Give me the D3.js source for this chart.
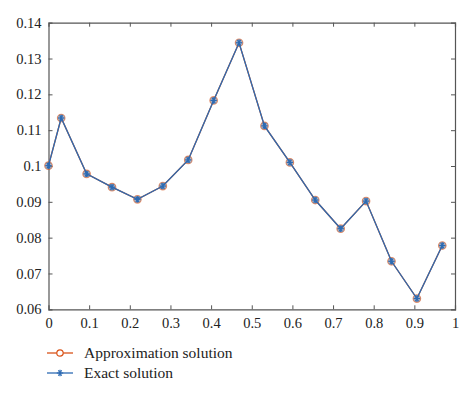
<!DOCTYPE html>
<html>
<head>
<meta charset="utf-8">
<script src="https://cdn.jsdelivr.net/npm/d3@7"></script>
<style>
  body { margin: 0; background: #fff; }
  svg text { font-family: "Liberation Serif", "DejaVu Serif", serif; fill: #222; }
</style>
</head>
<body>
<div id="chart"></div>
<script>
// Data
const xValues = [0, 0.03125, 0.09375, 0.15625, 0.21875, 0.28125, 0.34375, 0.40625,
    0.46875, 0.53125, 0.59375, 0.65625, 0.71875, 0.78125, 0.84375, 0.90625, 0.96875];
const approxValues = [0.1001, 0.1134, 0.0978, 0.0941, 0.0907, 0.0944, 0.1017, 0.1183,
    0.1344, 0.1112, 0.1010, 0.0905, 0.0825, 0.0902, 0.0734, 0.0630, 0.0778];
const exactValues = [0.1001, 0.1134, 0.0978, 0.0941, 0.0907, 0.0944, 0.1017, 0.1183,
    0.1344, 0.1112, 0.1010, 0.0905, 0.0825, 0.0902, 0.0734, 0.0630, 0.0778];
const xTicks = [0, 0.1, 0.2, 0.3, 0.4, 0.5, 0.6, 0.7, 0.8, 0.9, 1];
const yTicks = [0.06, 0.07, 0.08, 0.09, 0.1, 0.11, 0.12, 0.13, 0.14];
const seriesNames = ['Approximation solution', 'Exact solution'];

const width = 474, height = 394;
const margin = {top: 22.7, right: 19, bottom: 84.7, left: 48.5};
const orange = '#d95319', blue = '#2d6bb3', axisColor = '#555';
const serif = '"Liberation Serif", "DejaVu Serif", serif';

const svg = d3.select('#chart')
    .append('svg')
        .attr('width', width)
        .attr('height', height);

const xScale = d3.scaleLinear()
    .domain([0, 1])
    .range([margin.left, width - margin.right]);

const yScale = d3.scaleLinear()
    .domain([0.06, 0.14])
    .range([height - margin.bottom, margin.top]);

const fmt = d => String(+d.toFixed(2));

// Box with inward ticks on all sides
const bottomAxis = d3.axisBottom(xScale).tickValues(xTicks).tickSize(-4).tickFormat(fmt).tickPadding(8);
const topAxis = d3.axisTop(xScale).tickValues(xTicks).tickSize(-4).tickFormat('');
const leftAxis = d3.axisLeft(yScale).tickValues(yTicks).tickSize(-4).tickFormat(fmt).tickPadding(7);
const rightAxis = d3.axisRight(yScale).tickValues(yTicks).tickSize(-4).tickFormat('');

const styleAxis = g => {
    g.attr('font-family', serif).attr('font-size', 14.5);
    g.select('.domain').attr('stroke', axisColor).attr('stroke-width', 1.2);
    g.selectAll('.tick line').attr('stroke', axisColor).attr('stroke-width', 1);
    g.selectAll('.tick text')
        .attr('font-family', serif)
        .attr('font-size', 14.5)
        .attr('fill', '#222');
};

svg.append('g')
    .attr('transform', 'translate(0,' + yScale(0.06) + ')')
    .call(bottomAxis).call(styleAxis);
svg.append('g')
    .attr('transform', 'translate(0,' + yScale(0.14) + ')')
    .call(topAxis).call(styleAxis);
svg.append('g')
    .attr('transform', 'translate(' + xScale(0) + ',0)')
    .call(leftAxis).call(styleAxis);
svg.append('g')
    .attr('transform', 'translate(' + xScale(1) + ',0)')
    .call(rightAxis).call(styleAxis);

// remove the tick marks at the corners
svg.selectAll('.tick').filter(d => d === 0 || d === 1 || d === 0.06 || d === 0.14)
    .select('line').remove();

const line = d3.line()
    .x((d, i) => xScale(xValues[i]))
    .y(d => yScale(d));

const drawStar = (g, r, color) => {
    [0, 60, 120].forEach(a => {
        const rad = a * Math.PI / 180;
        g.append('line')
            .attr('x1', -r * Math.cos(rad)).attr('y1', -r * Math.sin(rad))
            .attr('x2', r * Math.cos(rad)).attr('y2', r * Math.sin(rad))
            .attr('stroke', color).attr('stroke-width', 1.2);
    });
    g.append('line').attr('x1', 0).attr('y1', -r).attr('x2', 0).attr('y2', r)
        .attr('stroke', color).attr('stroke-width', 1.2);
};

// Approximation series
svg.append('path')
    .datum(approxValues)
    .attr('d', line)
    .attr('fill', 'none')
    .attr('stroke', orange)
    .attr('stroke-width', 1.3);

svg.append('g')
    .selectAll('circle')
    .data(approxValues)
    .enter()
    .append('circle')
        .attr('cx', (d, i) => xScale(xValues[i]))
        .attr('cy', d => yScale(d))
        .attr('r', 3.8)
        .attr('fill', '#7f8aa3')
        .attr('fill-opacity', 0.65)
        .attr('stroke', orange)
        .attr('stroke-opacity', 0.6)
        .attr('stroke-width', 1.1);

// Exact series
svg.append('path')
    .datum(exactValues)
    .attr('d', line)
    .attr('fill', 'none')
    .attr('stroke', blue)
    .attr('stroke-width', 1.3);

svg.append('g')
    .selectAll('g')
    .data(exactValues)
    .enter()
    .append('g')
        .attr('transform', (d, i) => 'translate(' + xScale(xValues[i]) + ',' + yScale(d) + ')')
        .each(function () { drawStar(d3.select(this), 3.2, blue); });

// Legend
const legend = svg.append('g').attr('transform', 'translate(47,353)');
seriesNames.forEach((name, i) => {
    const color = i === 0 ? orange : blue;
    const row = legend.append('g').attr('transform', 'translate(0,' + (i * 20) + ')');
    row.append('line')
        .attr('x1', 0).attr('x2', 26).attr('y1', 0).attr('y2', 0)
        .attr('stroke', color).attr('stroke-width', 1.3);
    if (i === 0) {
        row.append('circle').attr('cx', 13).attr('cy', 0).attr('r', 3.2)
            .attr('fill', '#fff').attr('stroke', color).attr('stroke-width', 1.2);
    } else {
        drawStar(row.append('g').attr('transform', 'translate(13,0)'), 3.2, color);
    }
    row.append('text')
        .attr('x', 37)
        .attr('y', 5)
        .attr('font-family', serif)
        .attr('font-size', 15.5)
        .text(name);
});
</script>
</body>
</html>
